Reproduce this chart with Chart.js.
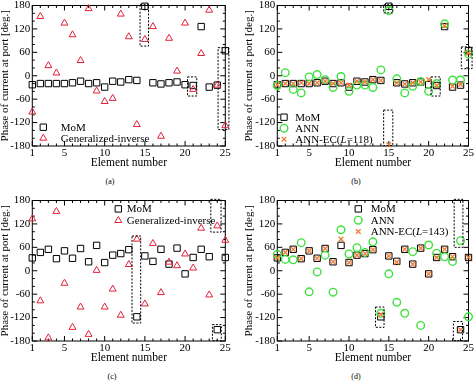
<!DOCTYPE html>
<html>
<head>
<meta charset="utf-8">
<script src="https://cdn.jsdelivr.net/npm/chart.js@4.4.0/dist/chart.umd.min.js"></script>
<style>
  body{margin:0;background:#fff;width:474px;height:389px;position:relative;overflow:hidden}
  canvas{position:absolute}
  .cap{position:absolute;font:8px "Liberation Serif",serif;color:#000;transform:translateX(-50%)}
</style>
</head>
<body>
<canvas id="pa" width="237" height="175" style="left:0;top:0"></canvas>
<canvas id="pb" width="230" height="175" style="left:244px;top:0"></canvas>
<canvas id="pc" width="237" height="175" style="left:0;top:195px"></canvas>
<canvas id="pd" width="230" height="175" style="left:244px;top:195px"></canvas>
<div class="cap" style="left:110px;top:177px">(a)</div>
<div class="cap" style="left:356px;top:177px">(b)</div>
<div class="cap" style="left:112px;top:372px">(c)</div>
<div class="cap" style="left:356px;top:372px">(d)</div>
<script>
// element numbers (x categories) and axis ticks
const elements=[1,2,3,4,5,6,7,8,9,10,11,12,13,14,15,16,17,18,19,20,21,22,23,24,25];
const xMajor=[1,5,10,15,20,25];
const yStep=60;

// case 1 : panels (a) and (b)
const mom1=[-23,-20,-20,-20,-20,-18,-14,-20,-18,-29,-14,-16,-10,-12,178,-18,-21,-18,-16,-23,-25,126,-29,-24,64];
const gi1=[-93,152,26,7,135,105,39,172,-39,-66,-58,158,100,-125,93,126,-155,96,12,135,-35,57,168,-24,-128];
const ann1=[-25,8,-35,-44,-3,3,-10,-30,-2,-40,-24,-24,-30,15,167,-8,-44,-27,-15,-40,-20,133,-11,-11,56];
const annEc1=[-23,-20,-20,-18,-20,-18,-14,-20,-18,-24,-14,-16,-10,-12,-177,-18,-21,-18,-16,-10,-25,128,-27,-22,58];

// case 2 : panels (c) and (d)
const mom2=[33,47,55,31,51,32,57,23,65,21,40,44,54,-118,38,24,55,17,58,-8,34,55,36,-151,34];
const gi2=[133,-77,-172,152,-32,-145,-93,-163,1,-93,-47,-114,16,81,-85,70,-56,22,13,43,7,109,-62,115,78];
const ann2=[42,29,28,72,-54,-3,40,-55,105,43,59,47,74,-109,-8,-81,-109,49,-140,66,45,36,24,77,-118];
const annEc2=[33,47,55,31,51,32,57,23,81,21,40,44,54,-112,38,22,55,17,58,-8,34,55,36,-151,34];

// dashed highlight boxes [x0,x1,y0,y1] in data units
const boxesA=[[14.4,15.45,76,183],[20.3,21.45,-52,-3],[24.1,25.45,-138,72]];
const boxesB=[[14.35,15.5,161,182],[14.35,15.5,-179,-88],[20.3,21.45,-52,-3],[24.1,25.45,18,74]];
const boxesC=[[13.4,14.48,-134,89],[23.2,24.47,99,183],[23.4,24.5,-179,-138]];
const boxesD=[[13.33,14.4,-145,-93],[23.2,24.3,60,183],[23.1,24.25,-179,-130]];

const SERIF='"Liberation Serif", "Times New Roman", serif';
const STY={
  mom:{label:'MoM',pointStyle:'rect',r:4.5,color:'#000000',lw:1},
  gi:{label:'Generalized-inverse',pointStyle:'triangle',r:4,color:'#e3203a',lw:1},
  ann:{label:'ANN',pointStyle:'circle',r:3.8,color:'#3fe03f',lw:1.4},
  ec:{label:'ANN-EC',pointStyle:'crossRot',r:3.3,color:'#f27b32',lw:1.3}
};

function ds(vals,s,order){
  return {label:s.label,data:vals.map(function(v,i){return {x:elements[i],y:v}}),
    pointStyle:s.pointStyle,pointRadius:s.r,pointHoverRadius:s.r,
    pointBorderColor:s.color,pointBackgroundColor:'rgba(0,0,0,0)',pointBorderWidth:s.lw,
    showLine:false,clip:false,order:order};
}

const framePlugin={
  id:'frame',
  beforeDatasetsDraw(chart){
    const {ctx,chartArea:a,scales:{x,y}}=chart;
    ctx.save();
    ctx.strokeStyle='#000';ctx.lineWidth=1;
    ctx.strokeRect(a.left,a.top,a.right-a.left,a.bottom-a.top);
    ctx.beginPath();
    elements.forEach(function(e){
      const px=x.getPixelForValue(e);const L=xMajor.indexOf(e)>=0?5:2.5;
      ctx.moveTo(px,a.bottom);ctx.lineTo(px,a.bottom-L);
      ctx.moveTo(px,a.top);ctx.lineTo(px,a.top+L);
    });
    for(let v=-180;v<=180;v+=20){
      const py=y.getPixelForValue(v);const L=v%yStep===0?5:2.5;
      ctx.moveTo(a.left,py);ctx.lineTo(a.left+L,py);
      ctx.moveTo(a.right,py);ctx.lineTo(a.right-L,py);
    }
    ctx.stroke();
    ctx.restore();
  },
  afterDraw(chart,args,opts){
    const {ctx,chartArea:a,scales:{x,y}}=chart;
    ctx.save();
    ctx.strokeStyle='#000';ctx.lineWidth=1;ctx.setLineDash([2,1.5]);
    (opts.boxes||[]).forEach(function(b){
      const x0=x.getPixelForValue(b[0]),x1=x.getPixelForValue(b[1]);
      const y0=y.getPixelForValue(b[2]),y1=y.getPixelForValue(b[3]);
      ctx.strokeRect(x0,y1,x1-x0,y0-y1);
    });
    ctx.setLineDash([]);
    // legend
    const lg=opts.legend;
    lg.items.forEach(function(it,i){
      const mx=a.left+lg.dx,my=a.top+lg.dy+i*lg.gap;
      ctx.fillStyle='rgba(0,0,0,0)';ctx.strokeStyle=it.s.color;ctx.lineWidth=it.s.lw;
      Chart.helpers.drawPoint(ctx,{pointStyle:it.s.pointStyle,radius:it.s.r,borderWidth:it.s.lw,rotation:0},mx,my);
      ctx.fillStyle='#000';ctx.textBaseline='middle';
      let tx=a.left+lg.tx;
      it.parts.forEach(function(p){
        ctx.font=(p.it?'italic ':'')+'11px '+SERIF;
        ctx.fillText(p.t,tx,my+0.5);
        tx+=ctx.measureText(p.t).width;
      });
    });
    ctx.restore();
  }
};

function makeChart(id,datasets,boxes,legend,leftW,rightPad){
  new Chart(document.getElementById(id),{
    type:'scatter',
    data:{datasets:datasets},
    plugins:[framePlugin],
    options:{
      responsive:false,animation:false,
      layout:{padding:{left:0,right:rightPad,top:3.3,bottom:0}},
      plugins:{legend:{display:false},tooltip:{enabled:false},frame:{boxes:boxes,legend:legend}},
      scales:{
        x:{type:'linear',min:1,max:25,
          grid:{display:false,drawTicks:false,tickLength:0},border:{display:false},
          afterBuildTicks:function(s){s.ticks=xMajor.map(function(v){return {value:v}})},
          afterFit:function(s){s.height=29;s.paddingLeft=0;s.paddingRight=0},
          ticks:{autoSkip:false,maxRotation:0,padding:1,color:'#000',font:{family:SERIF,size:11}},
          title:{display:true,text:'Element number',color:'#000',padding:{top:5,bottom:5},font:{family:SERIF,size:11.5}}},
        y:{min:-180,max:180,
          grid:{display:false,drawTicks:false,tickLength:0},border:{display:false},
          afterFit:function(s){s.width=leftW;s.paddingTop=0;s.paddingBottom=0},
          ticks:{stepSize:yStep,padding:2,color:'#000',font:{family:SERIF,size:11}},
          title:{display:true,text:'Phase of current at port [deg.]',color:'#000',padding:{top:-1,bottom:0},font:{family:SERIF,size:11}}}
      }
    }
  });
}

const P=function(t,it){return {t:t,it:!!it}};

makeChart('pa',[ds(mom1,STY.mom,1),ds(gi1,STY.gi,0)],boxesA,
  {dx:11,dy:121.7,gap:11,tx:28.5,items:[{s:STY.mom,parts:[P('MoM')]},{s:STY.gi,parts:[P('Generalized-inverse')]}]},32.3,11.7);
makeChart('pb',[ds(mom1,STY.mom,2),ds(ann1,STY.ann,1),ds(annEc1,STY.ec,0)],boxesB,
  {dx:6.7,dy:111.7,gap:11,tx:18,items:[{s:STY.mom,parts:[P('MoM')]},{s:STY.ann,parts:[P('ANN')]},{s:STY.ec,parts:[P('ANN-EC('),P('L',true),P('=118)')]}]},33.3,3.3);
makeChart('pc',[ds(mom2,STY.mom,1),ds(gi2,STY.gi,0)],boxesC,
  {dx:86,dy:8.4,gap:11.6,tx:94.5,items:[{s:STY.mom,parts:[P('MoM')]},{s:STY.gi,parts:[P('Generalized-inverse')]}]},32.3,11.7);
makeChart('pd',[ds(mom2,STY.mom,2),ds(ann2,STY.ann,1),ds(annEc2,STY.ec,0)],boxesD,
  {dx:81,dy:8.4,gap:11.3,tx:93.4,items:[{s:STY.mom,parts:[P('MoM')]},{s:STY.ann,parts:[P('ANN')]},{s:STY.ec,parts:[P('ANN-EC('),P('L',true),P('=143)')]}]},33.3,3.3);
</script>
</body>
</html>
